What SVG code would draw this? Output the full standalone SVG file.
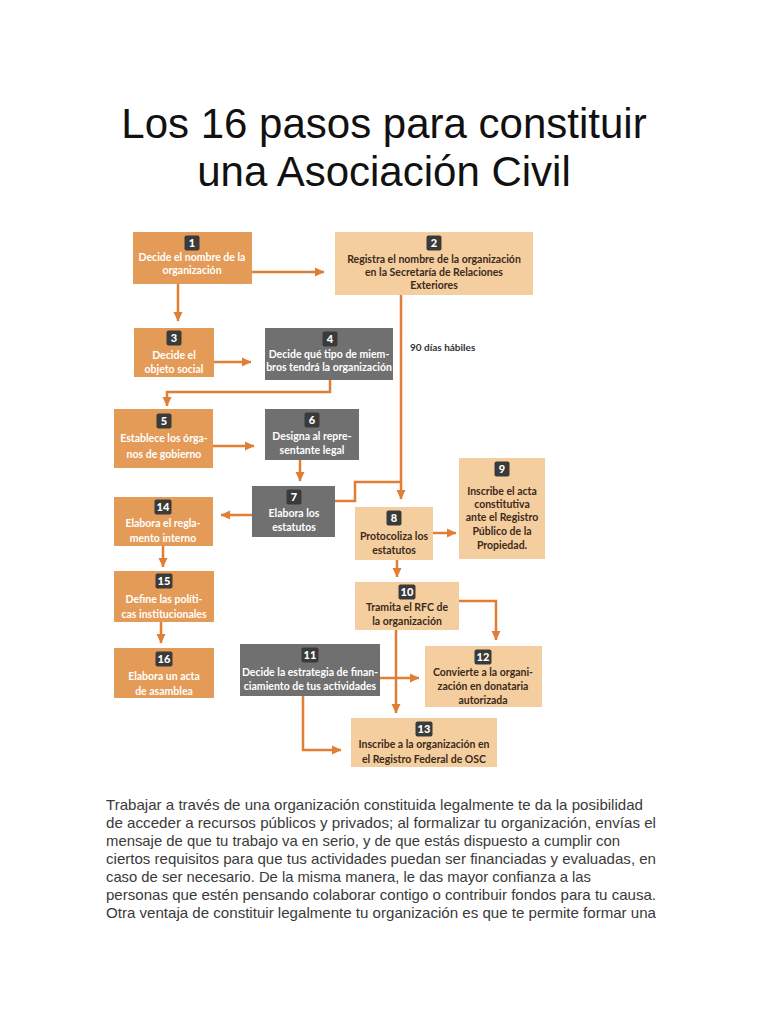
<svg xmlns="http://www.w3.org/2000/svg" width="768" height="1024" viewBox="0 0 768 1024">
<style>
.title{font-family:"Liberation Sans",Arial,sans-serif;font-size:42px;fill:#111;text-anchor:middle}
.body{font-family:"Liberation Sans",Arial,sans-serif;font-size:15px;fill:#3a3a3a}
.dk{fill:#E39B57}
.lt{fill:#F5CE9F}
.gy{fill:#707070}
.badge{fill:#3a3a3a}
.num{font-family:Lato,"Open Sans",sans-serif;font-weight:900;font-size:11px;fill:#fff;text-anchor:middle}
.tw{font-family:Lato,"Open Sans",sans-serif;font-weight:700;font-size:10.5px;fill:#fff;text-anchor:middle}
.tb{font-family:Lato,"Open Sans",sans-serif;font-weight:700;font-size:10.5px;fill:#3b2a1a;text-anchor:middle}
.lbl{font-family:Lato,"Open Sans",sans-serif;font-weight:700;font-size:10px;fill:#333}
.con path{fill:none;stroke:#E07E34;stroke-width:2.5;stroke-linejoin:miter}
</style>
<defs>
<marker id="ah" markerUnits="userSpaceOnUse" markerWidth="10" markerHeight="10" viewBox="0 0 10 10" refX="9" refY="5" orient="auto">
<path d="M0,0.5 L9.5,5 L0,9.5 Z" fill="#E07E34"/>
</marker>
</defs>
<rect width="768" height="1024" fill="#fff"/>
<text class="title" x="384" y="138">Los 16 pasos para constituir</text>
<text class="title" x="384" y="186">una Asociación Civil</text>

<g class="con">
<path d="M252,272 H324" marker-end="url(#ah)"/>
<path d="M178,284 V321" marker-end="url(#ah)"/>
<path d="M214,362 H251" marker-end="url(#ah)"/>
<path d="M330,380 V392 H167 V406" marker-end="url(#ah)"/>
<path d="M401,295 V499" marker-end="url(#ah)"/>
<path d="M213,446 H254" marker-end="url(#ah)"/>
<path d="M300,460 V481" marker-end="url(#ah)"/>
<path d="M335,501 H355 V482 H401"/>
<path d="M252,515 H221" marker-end="url(#ah)"/>
<path d="M433,533 H456" marker-end="url(#ah)"/>
<path d="M163,546 V567" marker-end="url(#ah)"/>
<path d="M161,622 V643" marker-end="url(#ah)"/>
<path d="M397,560 V577" marker-end="url(#ah)"/>
<path d="M459,601 H496 V640" marker-end="url(#ah)"/>
<path d="M396,630 V713" marker-end="url(#ah)"/>
<path d="M380,678 H419" marker-end="url(#ah)"/>
<path d="M303,696 V750 H341" marker-end="url(#ah)"/>
</g>

<g id="n1"><rect class="dk" x="133" y="232" width="119" height="52"/><rect class="badge" x="184.5" y="235.5" width="15" height="15" rx="2"/><text class="num" x="192" y="247">1</text><text class="tw" x="192" y="261">Decide el nombre de la</text><text class="tw" x="192" y="274">organización</text></g>
<g id="n2"><rect class="lt" x="335" y="232" width="198" height="63"/><rect class="badge" x="426.5" y="235.5" width="15" height="15" rx="2"/><text class="num" x="434" y="247">2</text><text class="tb" x="434" y="263">Registra el nombre de la organización</text><text class="tb" x="434" y="276">en la Secretaría de Relaciones</text><text class="tb" x="434" y="289">Exteriores</text></g>
<g id="n3"><rect class="dk" x="134" y="328" width="80" height="49"/><rect class="badge" x="166.5" y="330.5" width="15" height="15" rx="2"/><text class="num" x="174" y="342">3</text><text class="tw" x="174" y="359">Decide el</text><text class="tw" x="174" y="373">objeto social</text></g>
<g id="n4"><rect class="gy" x="265" y="328" width="128" height="52"/><rect class="badge" x="322.5" y="331.5" width="15" height="15" rx="2"/><text class="num" x="330" y="343">4</text><text class="tw" x="329" y="358">Decide qué tipo de miem-</text><text class="tw" x="329" y="371">bros tendrá la organización</text></g>
<text class="lbl" x="410" y="351">90 días hábiles</text>
<g id="n5"><rect class="dk" x="114" y="409" width="99" height="59"/><rect class="badge" x="156.5" y="413.5" width="15" height="15" rx="2"/><text class="num" x="164" y="425">5</text><text class="tw" x="164" y="442">Establece los órga-</text><text class="tw" x="164" y="458">nos de gobierno</text></g>
<g id="n6"><rect class="gy" x="265" y="409" width="94" height="51"/><rect class="badge" x="304.5" y="412.5" width="15" height="15" rx="2"/><text class="num" x="312" y="424">6</text><text class="tw" x="312" y="440">Designa al repre-</text><text class="tw" x="312" y="454">sentante legal</text></g>
<g id="n7"><rect class="gy" x="252" y="486" width="83" height="51"/><rect class="badge" x="286.5" y="489.5" width="15" height="15" rx="2"/><text class="num" x="294" y="501">7</text><text class="tw" x="294" y="517">Elabora los</text><text class="tw" x="294" y="531">estatutos</text></g>
<g id="n8"><rect class="lt" x="355" y="507" width="78" height="53"/><rect class="badge" x="386.5" y="510.5" width="15" height="15" rx="2"/><text class="num" x="394" y="522">8</text><text class="tb" x="394" y="540">Protocoliza los</text><text class="tb" x="394" y="554">estatutos</text></g>
<g id="n9"><rect class="lt" x="459" y="458" width="86" height="101"/><rect class="badge" x="494.5" y="461.5" width="15" height="15" rx="2"/><text class="num" x="502" y="473">9</text><text class="tb" x="502" y="495">Inscribe el acta</text><text class="tb" x="502" y="508">constitutiva</text><text class="tb" x="502" y="521">ante el Registro</text><text class="tb" x="502" y="535">Público de la</text><text class="tb" x="502" y="549">Propiedad.</text></g>
<g id="n14"><rect class="dk" x="114" y="497" width="99" height="49"/><rect class="badge" x="154.5" y="499.5" width="17" height="15" rx="2"/><text class="num" x="163" y="511">14</text><text class="tw" x="163" y="527">Elabora el regla-</text><text class="tw" x="163" y="542">mento interno</text></g>
<g id="n15"><rect class="dk" x="114" y="571" width="100" height="51"/><rect class="badge" x="155.5" y="573.5" width="17" height="15" rx="2"/><text class="num" x="164" y="585">15</text><text class="tw" x="164" y="603">Define las políti-</text><text class="tw" x="164" y="618">cas institucionales</text></g>
<g id="n16"><rect class="dk" x="114" y="648" width="100" height="50"/><rect class="badge" x="155.5" y="651.5" width="17" height="15" rx="2"/><text class="num" x="164" y="663">16</text><text class="tw" x="164" y="680">Elabora un acta</text><text class="tw" x="164" y="695">de asamblea</text></g>
<g id="n10"><rect class="lt" x="355" y="582" width="104" height="48"/><rect class="badge" x="398.5" y="584.5" width="17" height="15" rx="2"/><text class="num" x="407" y="596">10</text><text class="tb" x="407" y="611">Tramita el RFC de</text><text class="tb" x="407" y="625">la organización</text></g>
<g id="n11"><rect class="gy" x="240" y="644" width="140" height="52"/><rect class="badge" x="301.5" y="647.5" width="17" height="15" rx="2"/><text class="num" x="310" y="659">11</text><text class="tw" x="310" y="676">Decide la estrategia de finan-</text><text class="tw" x="310" y="690">ciamiento de tus actividades</text></g>
<g id="n12"><rect class="lt" x="425" y="646" width="117" height="61"/><rect class="badge" x="474.5" y="649.5" width="17" height="15" rx="2"/><text class="num" x="483" y="661">12</text><text class="tb" x="483" y="676">Convierte a la organi-</text><text class="tb" x="483" y="690">zación en donataria</text><text class="tb" x="483" y="704">autorizada</text></g>
<g id="n13"><rect class="lt" x="351" y="718" width="146" height="49"/><rect class="badge" x="415.5" y="721.5" width="17" height="15" rx="2"/><text class="num" x="424" y="733">13</text><text class="tb" x="424" y="748">Inscribe a la organización en</text><text class="tb" x="424" y="763">el Registro Federal de OSC</text></g>

<g id="body">
<text class="body" x="106" y="810" textLength="537" lengthAdjust="spacingAndGlyphs">Trabajar a través de una organización constituida legalmente te da la posibilidad</text>
<text class="body" x="106" y="828" textLength="550" lengthAdjust="spacingAndGlyphs">de acceder a recursos públicos y privados; al formalizar tu organización, envías el</text>
<text class="body" x="106" y="846" textLength="514" lengthAdjust="spacingAndGlyphs">mensaje de que tu trabajo va en serio, y de que estás dispuesto a cumplir con</text>
<text class="body" x="106" y="864" textLength="550" lengthAdjust="spacingAndGlyphs">ciertos requisitos para que tus actividades puedan ser financiadas y evaluadas, en</text>
<text class="body" x="106" y="882" textLength="485" lengthAdjust="spacingAndGlyphs">caso de ser necesario. De la misma manera, le das mayor confianza a las</text>
<text class="body" x="106" y="900" textLength="550" lengthAdjust="spacingAndGlyphs">personas que estén pensando colaborar contigo o contribuir fondos para tu causa.</text>
<text class="body" x="106" y="918" textLength="550" lengthAdjust="spacingAndGlyphs">Otra ventaja de constituir legalmente tu organización es que te permite formar una</text>
</g>
</svg>
